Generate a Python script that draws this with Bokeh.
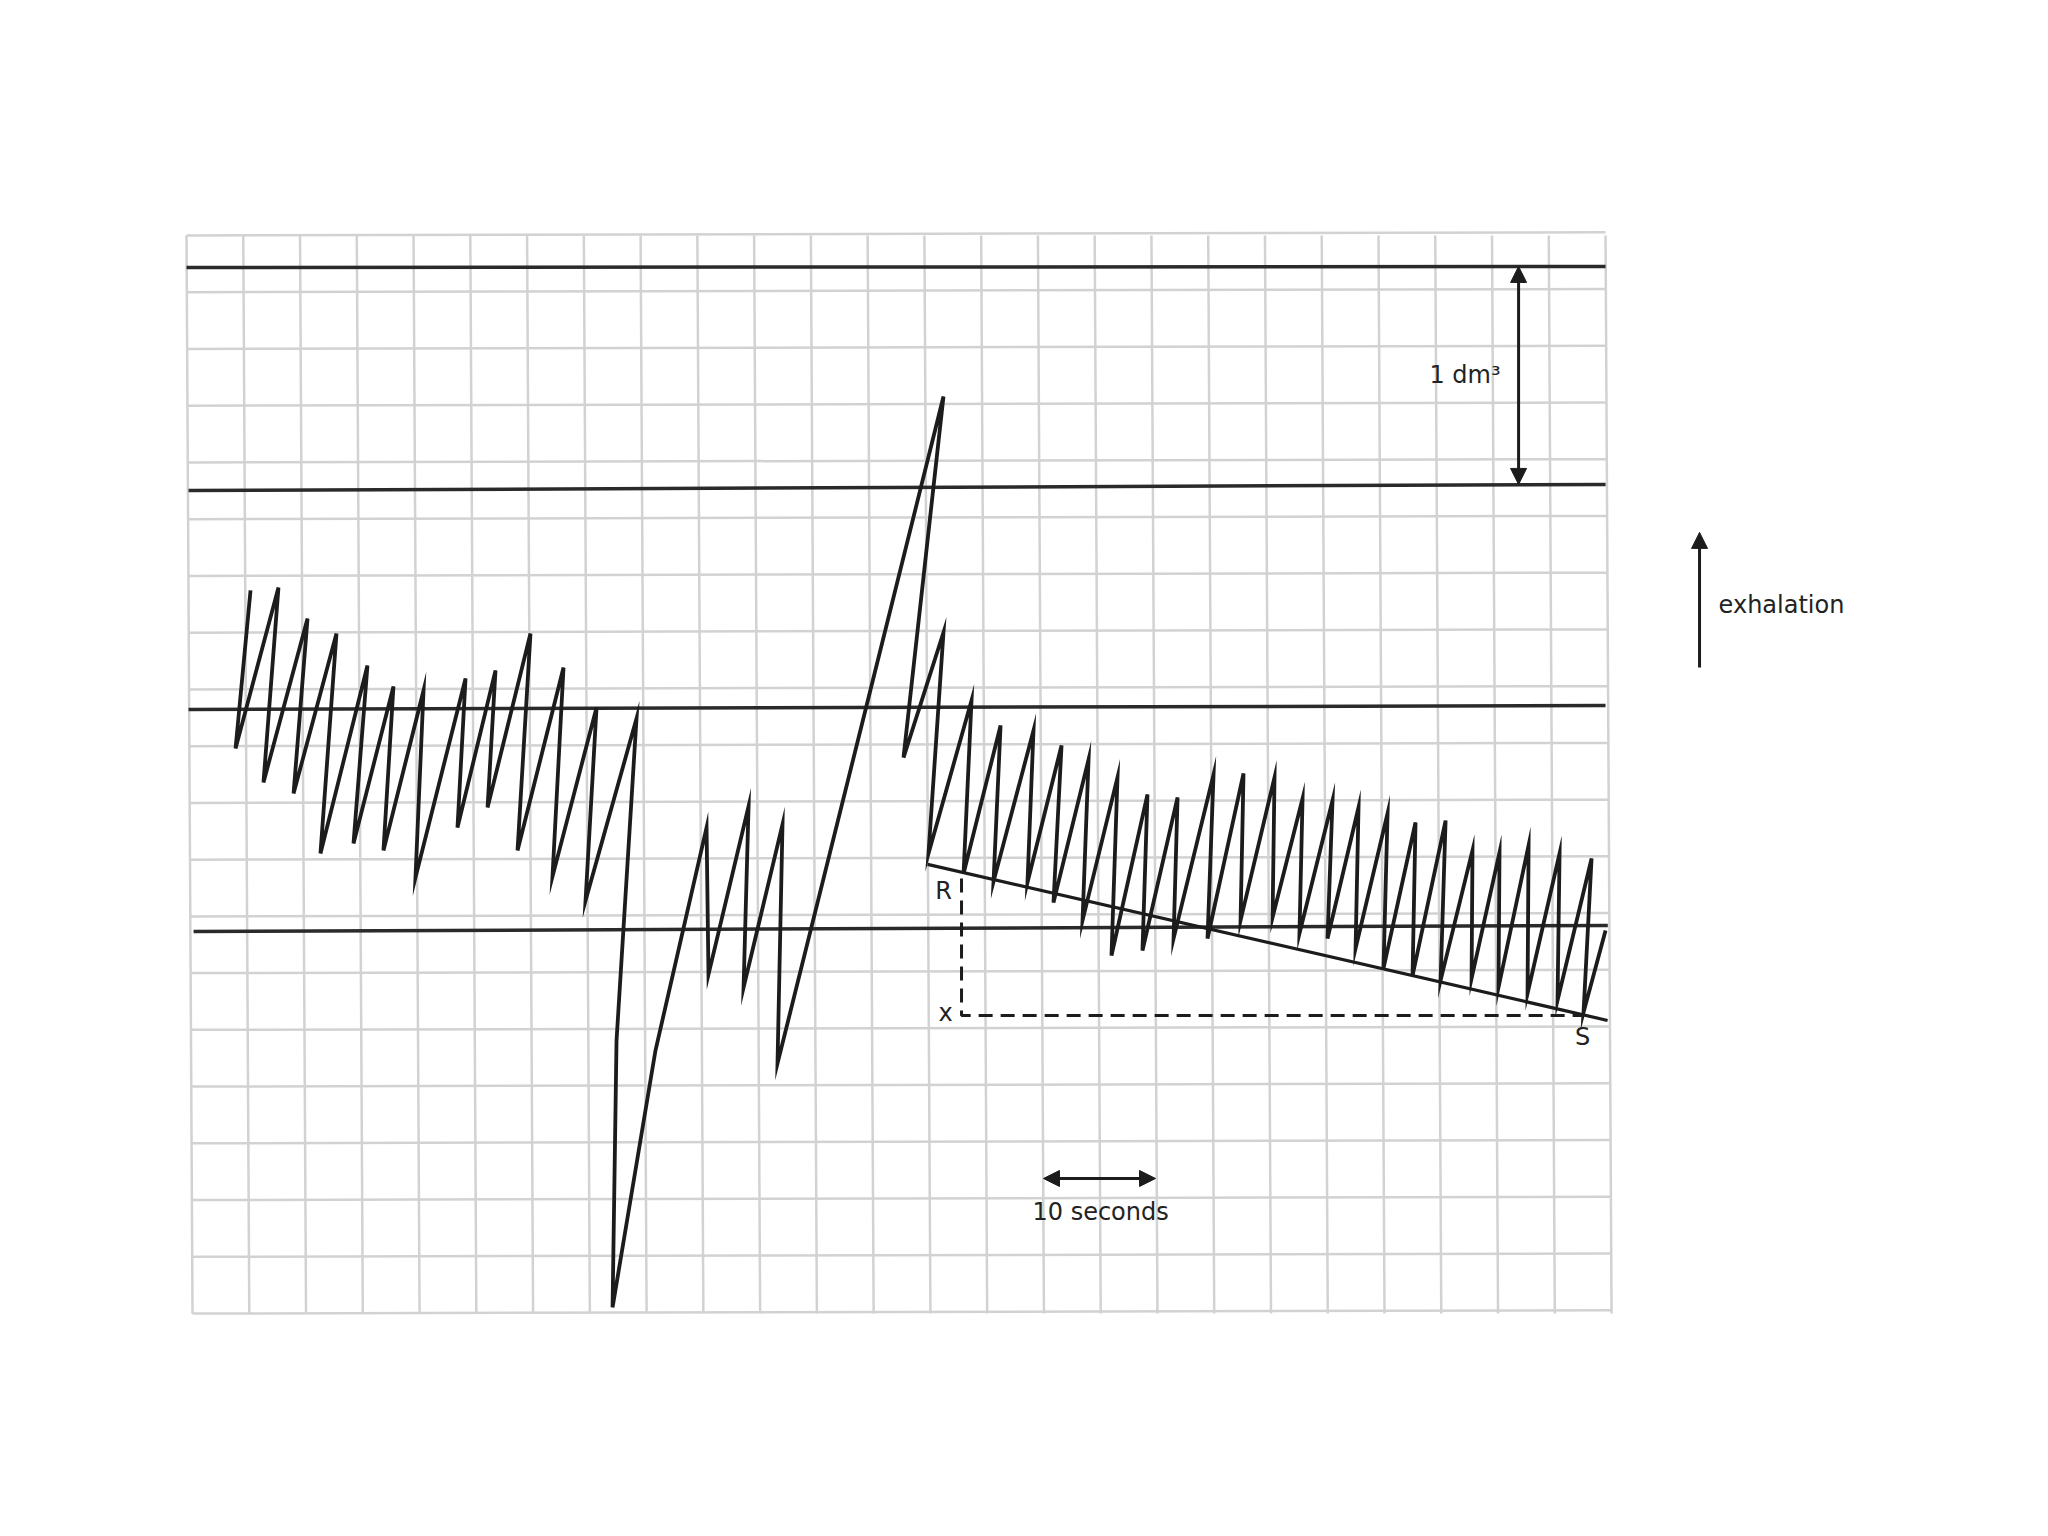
from bokeh.plotting import figure
from bokeh.models import Range1d, Arrow, NormalHead
from bokeh.core.properties import value
from bokeh.embed import file_html
from bokeh.resources import INLINE

# ---- data (time in seconds, volume in dm^3) ----
trace_t = [5.64, 4.32, 8.10, 6.78, 10.66, 9.43, 13.21, 11.80, 15.94, 14.71,
           18.23, 17.35, 20.88, 20.17, 24.58, 23.87, 27.22, 26.52, 30.30, 29.16,
           33.21, 32.24, 36.12, 35.15, 39.64, 37.88, 37.53, 41.31, 45.81, 45.98,
           49.51, 49.07, 52.50, 52.06, 66.68, 63.16, 66.68, 65.36, 69.15, 68.45,
           71.71, 71.09, 74.61, 74.08, 77.08, 76.37, 79.46, 78.93, 82.01, 81.48,
           84.65, 84.21, 87.30, 86.95, 90.47, 89.94, 93.11, 92.85, 95.84, 95.67,
           98.31, 98.04, 100.95, 100.51, 103.24, 102.98, 105.80, 105.44, 108.26, 108.00,
           110.91, 110.47, 113.28, 113.20, 115.66, 115.57, 118.22, 118.13, 120.95, 120.77,
           123.77, 123.06, 125.00]
trace_v = [3.317, 2.592, 3.330, 2.436, 3.188, 2.385, 3.119, 2.110, 2.972, 2.156,
           2.876, 2.124, 2.858, 2.000, 2.913, 2.229, 2.950, 2.321, 3.119, 2.124,
           2.963, 2.005, 2.780, 1.894, 2.729, 1.252, 0.028, 1.206, 2.229, 1.555,
           2.326, 1.495, 2.243, 1.147, 4.206, 2.550, 3.124, 2.110, 2.812, 2.018,
           2.697, 1.982, 2.674, 1.977, 2.606, 1.885, 2.541, 1.803, 2.459, 1.642,
           2.381, 1.665, 2.367, 1.720, 2.472, 1.720, 2.477, 1.803, 2.459, 1.817,
           2.362, 1.743, 2.353, 1.720, 2.321, 1.674, 2.294, 1.583, 2.252, 1.550,
           2.261, 1.528, 2.124, 1.537, 2.115, 1.495, 2.147, 1.468, 2.110, 1.436,
           2.087, 1.381, 1.757]

# reference (1 dm^3 spaced) lines on the paper
ref_t0 = [0.0, 0.18, 0.18, 0.62]
ref_t1 = [125.0, 125.0, 125.0, 125.2]
ref_v0 = [4.798, 3.775, 2.771, 1.752]
ref_v1 = [4.803, 3.803, 2.789, 1.780]

# slope line R-S and construction point x
rs_t = [65.28, 125.18]
rs_v = [2.060, 1.344]
rx_t = [68.27, 68.27, 123.06]
rx_v = [1.995, 1.367, 1.367]

labels_pts = ["R", "x", "S"]
labels_t = [66.68, 66.86, 122.97]
labels_v = [1.940, 1.376, 1.266]

# grid of the chart paper
grid_dt = 5.0          # seconds per square
grid_dv = 0.2603       # dm^3 per square
n_cols, n_rows = 25, 19
grid_top = 4.945

# ---- figure ----
p = figure(width=2032, height=1520, output_backend="svg", toolbar_location=None,
           x_range=Range1d(-16.385, 162.61), y_range=Range1d(-0.950, 6.023),
           x_axis_location=None, y_axis_location=None, min_border=0)
p.grid.visible = False
p.outline_line_color = None
p.background_fill_color = "white"
p.border_fill_color = "white"

grid_col = "#d2d2d2"
skew_t = 0.53
skew_v = 0.015
vx0 = [k * grid_dt for k in range(n_cols + 1)]
p.segment(x0=vx0, y0=[grid_top] * len(vx0), x1=[x + skew_t for x in vx0], y1=[0.0] * len(vx0),
          line_color=grid_col, line_width=2.5)
hy0 = [grid_top - j * grid_dv for j in range(n_rows + 1)]
p.segment(x0=[0.0 + skew_t * j / n_rows for j in range(n_rows + 1)], y0=hy0,
          x1=[n_cols * grid_dt + skew_t * j / n_rows for j in range(n_rows + 1)],
          y1=[y + skew_v for y in hy0], line_color=grid_col, line_width=2.5)

ink = "#1c1c1c"
p.segment(x0=ref_t0, y0=ref_v0, x1=ref_t1, y1=ref_v1, line_color="#2a2a2a", line_width=3.5)

p.line(rs_t, rs_v, line_color=ink, line_width=3.2)
p.line(rx_t, rx_v, line_color=ink, line_width=3, line_dash="14 8")

p.line(trace_t, trace_v, line_color=ink, line_width=3.8, line_join="miter")

font = value("DejaVu Sans")
p.text(x=labels_t, y=labels_v, text=labels_pts, text_font=font, text_font_size="24px",
       text_align="center", text_baseline="middle", text_color="#222222")

# 1 dm^3 scale arrow
p.add_layout(Arrow(x_start=117.34, y_start=3.803, x_end=117.34, y_end=4.803,
                   line_color=ink, line_width=3,
                   start=NormalHead(size=16, fill_color=ink, line_color=ink),
                   end=NormalHead(size=16, fill_color=ink, line_color=ink)))
p.text(x=[115.75], y=[4.303], text=["1 dm³"], text_font=font, text_font_size="24px",
       text_align="right", text_baseline="middle", text_color="#222222")

# exhalation arrow
p.add_layout(Arrow(x_start=133.28, y_start=2.963, x_end=133.28, y_end=3.583,
                   line_color=ink, line_width=3,
                   end=NormalHead(size=16, fill_color=ink, line_color=ink)))
p.text(x=[134.96], y=[3.248], text=["exhalation"], text_font=font, text_font_size="24px",
       text_align="left", text_baseline="middle", text_color="#222222")

# 10 seconds arrow
p.add_layout(Arrow(x_start=75.49, y_start=0.619, x_end=85.36, y_end=0.619,
                   line_color=ink, line_width=3,
                   start=NormalHead(size=16, fill_color=ink, line_color=ink),
                   end=NormalHead(size=16, fill_color=ink, line_color=ink)))
p.text(x=[80.52], y=[0.463], text=["10 seconds"], text_font=font, text_font_size="24px",
       text_align="center", text_baseline="middle", text_color="#222222")

open("out.html", "w").write(file_html(p, INLINE))
